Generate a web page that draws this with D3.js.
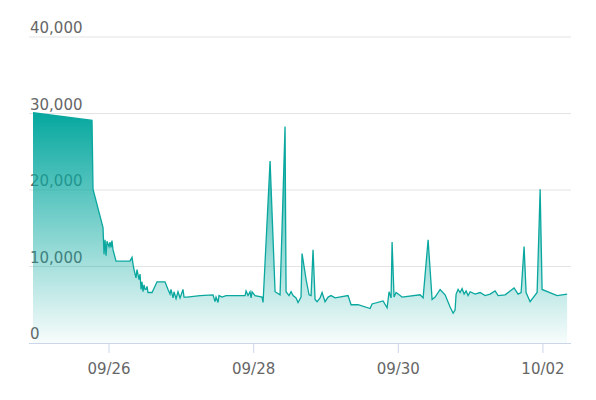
<!DOCTYPE html>
<html><head><meta charset="utf-8">
<script src="https://cdn.jsdelivr.net/npm/d3@7"></script>
<style>body{margin:0;background:#fff}text{font-family:"DejaVu Sans",sans-serif}</style>
</head><body>
<script>
// days relative to 09/26 00:00, values
var days = [-1.051,-0.235,-0.221,-0.083,-0.069,-0.055,-0.041,-0.028,0,0.014,0.028,0.041,0.055,0.097,0.124,0.290,0.318,0.332,0.346,0.373,0.387,0.415,0.429,0.443,0.456,0.470,0.484,0.498,0.512,0.526,0.539,0.595,0.664,0.774,0.816,0.844,0.857,0.885,0.899,0.927,0.954,0.982,1.023,1.037,1.079,1.259,1.438,1.466,1.480,1.507,1.521,1.563,1.618,1.715,1.881,1.895,1.922,1.950,1.964,1.978,2.019,2.116,2.130,2.227,2.296,2.365,2.434,2.448,2.489,2.517,2.545,2.586,2.614,2.655,2.669,2.725,2.766,2.794,2.821,2.849,2.877,2.918,2.946,2.987,3.029,3.070,3.126,3.305,3.347,3.444,3.610,3.637,3.789,3.845,3.872,3.900,3.914,3.941,3.969,4.025,4.052,4.301,4.343,4.412,4.467,4.509,4.578,4.647,4.716,4.758,4.785,4.799,4.827,4.854,4.882,4.910,4.937,4.965,4.993,5.062,5.131,5.200,5.269,5.338,5.380,5.477,5.546,5.601,5.656,5.698,5.739,5.767,5.822,5.919,5.961,5.988,6.196,6.334];
var values = [30100,29100,20100,15100,11600,13500,11400,13300,12600,13200,12500,13400,12200,10700,10700,10700,11200,10300,9600,8500,9600,8300,9000,7000,8000,6700,7600,7000,7000,7400,6600,6600,8000,8000,7000,6400,7000,5900,6700,5800,6700,5900,7000,6000,6000,6200,6300,5400,6000,5300,6200,6000,6200,6200,6200,6800,6200,6700,5900,6700,6200,6000,5300,23800,6700,6300,28300,6700,6200,6700,6200,5900,5300,6000,11700,8300,6300,6200,12200,5700,5400,5900,6600,5400,6000,6200,5900,6200,5000,5000,4500,5100,5500,4600,6700,5900,13200,6000,6600,6200,6000,6300,5900,13500,5700,6000,7000,6300,4700,3900,4300,6400,7000,6600,7100,6400,6800,6200,6700,6400,6600,6200,6400,6800,6200,6300,6800,7200,6400,6600,12600,6600,5400,6600,20100,7000,6200,6400];
var yTicks = [0,10000,20000,30000,40000];
var xTicks = [0,2,4,6];
var xLabels = ["09/26","09/28","09/30","10/02"];

var width = 596, height = 400;
var svg = d3.select("body").append("svg").attr("width",width).attr("height",height);

var x = d3.scaleLinear().domain([-1.051,6.36]).range([33,569]);
var y = d3.scaleLinear().domain([0,40000]).range([343,37]);

var grad = svg.append("defs").append("linearGradient")
  .attr("id","g").attr("x1",0).attr("y1",0).attr("x2",0).attr("y2",1)
  .attr("gradientUnits","userSpaceOnUse")
  .attr("x1",0).attr("x2",0).attr("y1",y(30000)).attr("y2",y(0));
grad.append("stop").attr("offset",0).attr("stop-color","#06a89f");
grad.append("stop").attr("offset",1).attr("stop-color","#06a89f").attr("stop-opacity",0.03);

// grid
svg.selectAll(".grid").data(yTicks.slice(1)).enter().append("line")
  .attr("x1",29).attr("x2",571).attr("y1",function(d){return y(d);}).attr("y2",function(d){return y(d);})
  .attr("stroke","#e3e3e3").attr("stroke-width",1);
svg.selectAll(".yl").data(yTicks).enter().append("text")
  .attr("x",30).attr("y",function(d){return y(d)-4;})
  .attr("fill","#666").attr("font-size",15)
  .text(function(d){return d3.format(",")(d);});

var pts = days.map(function(d,i){return [d,values[i]];});
svg.append("path").datum(pts)
  .attr("d",d3.area().x(function(d){return x(d[0]);}).y0(y(0)).y1(function(d){return y(d[1]);}))
  .attr("fill","url(#g)");
svg.append("path").datum(pts)
  .attr("d",d3.line().x(function(d){return x(d[0]);}).y(function(d){return y(d[1]);}))
  .attr("fill","none").attr("stroke","#0aa79f").attr("stroke-width",1.3);

// x axis
svg.append("line").attr("x1",29).attr("x2",571).attr("y1",343.5).attr("y2",343.5).attr("stroke","#ccd6eb");
svg.selectAll(".xt").data(xTicks).enter().append("line")
  .attr("x1",function(d){return x(d);}).attr("x2",function(d){return x(d);})
  .attr("y1",343).attr("y2",353).attr("stroke","#ccd6eb");
svg.selectAll(".xl").data(xTicks).enter().append("text")
  .attr("x",function(d){return x(d);}).attr("y",374).attr("text-anchor","middle")
  .attr("fill","#666").attr("font-size",15)
  .text(function(d,i){return xLabels[i];});
</script>
</body></html>
